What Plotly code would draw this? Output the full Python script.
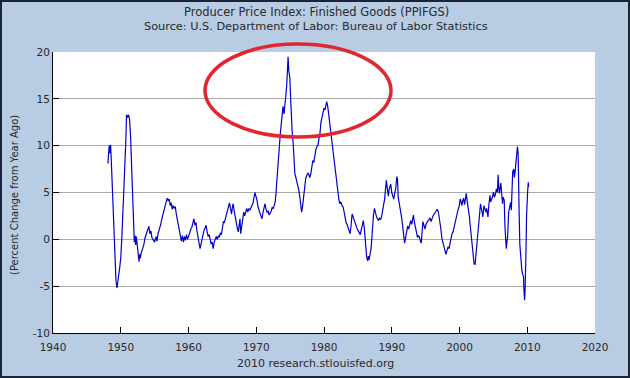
import plotly.graph_objects as go

# Decimal year of each observation and PPI finished goods, % change from year ago
years = [
    1948.1, 1948.2, 1948.3, 1948.4, 1948.5, 1948.6, 1948.75, 1948.9, 1949.0, 1949.1,
    1949.2, 1949.3, 1949.45, 1949.55, 1949.7, 1949.85, 1950.0, 1950.15, 1950.3, 1950.45,
    1950.6, 1950.75, 1950.85, 1951.0, 1951.15, 1951.3, 1951.45, 1951.55, 1951.7, 1951.8,
    1951.9, 1952.0, 1952.1, 1952.2, 1952.3, 1952.45, 1952.6, 1952.7, 1952.8, 1952.9,
    1953.0, 1953.2, 1953.4, 1953.6, 1953.8, 1954.0, 1954.15, 1954.3, 1954.45, 1954.6,
    1954.8, 1955.0, 1955.2, 1955.35, 1955.5, 1955.7, 1955.9, 1956.1, 1956.3, 1956.5,
    1956.7, 1956.85, 1957.0, 1957.15, 1957.3, 1957.45, 1957.6, 1957.75, 1957.9, 1958.05,
    1958.2, 1958.35, 1958.5, 1958.65, 1958.8, 1958.95, 1959.1, 1959.25, 1959.4, 1959.55,
    1959.7, 1959.85, 1960.0, 1960.15, 1960.3, 1960.5, 1960.65, 1960.8, 1960.95, 1961.1,
    1961.25, 1961.4, 1961.55, 1961.7, 1961.85, 1962.0, 1962.15, 1962.3, 1962.45, 1962.6,
    1962.75, 1962.9, 1963.05, 1963.2, 1963.35, 1963.5, 1963.65, 1963.8, 1963.95, 1964.1,
    1964.25, 1964.4, 1964.55, 1964.7, 1964.85, 1965.0, 1965.15, 1965.3, 1965.45, 1965.6,
    1965.75, 1965.9, 1966.05, 1966.2, 1966.35, 1966.5, 1966.6, 1966.75, 1966.9, 1967.05,
    1967.2, 1967.35, 1967.5, 1967.6, 1967.7, 1967.85, 1968.0, 1968.15, 1968.3, 1968.45,
    1968.6, 1968.75, 1968.9, 1969.05, 1969.2, 1969.35, 1969.5, 1969.65, 1969.8, 1969.95,
    1970.1, 1970.25, 1970.4, 1970.55, 1970.7, 1970.85, 1971.0, 1971.15, 1971.3, 1971.45,
    1971.6, 1971.75, 1971.9, 1972.05, 1972.2, 1972.35, 1972.5, 1972.65, 1972.8, 1972.9,
    1973.0, 1973.1, 1973.25, 1973.4, 1973.55, 1973.65, 1973.8, 1973.95, 1974.1, 1974.2,
    1974.35, 1974.5, 1974.6, 1974.7, 1974.8, 1974.95, 1975.05, 1975.15, 1975.3, 1975.45,
    1975.55, 1975.7, 1975.85, 1976.0, 1976.15, 1976.3, 1976.45, 1976.6, 1976.7, 1976.85,
    1977.0, 1977.15, 1977.3, 1977.45, 1977.6, 1977.75, 1977.9, 1978.05, 1978.2, 1978.35,
    1978.5, 1978.65, 1978.8, 1978.95, 1979.1, 1979.25, 1979.4, 1979.55, 1979.7, 1979.85,
    1980.0, 1980.15, 1980.3, 1980.4, 1980.55, 1980.7, 1980.85, 1981.0, 1981.15, 1981.3,
    1981.45, 1981.6, 1981.75, 1981.9, 1982.05, 1982.2, 1982.35, 1982.5, 1982.65, 1982.8,
    1982.95, 1983.1, 1983.25, 1983.4, 1983.55, 1983.7, 1983.85, 1984.0, 1984.15, 1984.3,
    1984.45, 1984.6, 1984.75, 1984.9, 1985.05, 1985.2, 1985.35, 1985.5, 1985.65, 1985.8,
    1985.95, 1986.05, 1986.2, 1986.3, 1986.45, 1986.55, 1986.65, 1986.8, 1986.95, 1987.05,
    1987.15, 1987.3, 1987.45, 1987.6, 1987.75, 1987.9, 1988.05, 1988.2, 1988.35, 1988.5,
    1988.65, 1988.8, 1988.95, 1989.1, 1989.2, 1989.35, 1989.5, 1989.6, 1989.75, 1989.85,
    1990.0, 1990.15, 1990.3, 1990.45, 1990.6, 1990.75, 1990.85, 1990.95, 1991.1, 1991.2,
    1991.35, 1991.5, 1991.6, 1991.75, 1991.9, 1992.05, 1992.2, 1992.35, 1992.5, 1992.65,
    1992.8, 1992.95, 1993.1, 1993.2, 1993.35, 1993.5, 1993.65, 1993.8, 1993.95, 1994.1,
    1994.25, 1994.35, 1994.5, 1994.6, 1994.75, 1994.9, 1995.05, 1995.2, 1995.35, 1995.5,
    1995.65, 1995.8, 1995.95, 1996.1, 1996.25, 1996.4, 1996.55, 1996.7, 1996.85, 1996.95,
    1997.1, 1997.25, 1997.4, 1997.55, 1997.7, 1997.85, 1998.0, 1998.15, 1998.3, 1998.45,
    1998.6, 1998.75, 1998.9, 1999.05, 1999.2, 1999.35, 1999.5, 1999.65, 1999.8, 1999.95,
    2000.1, 2000.2, 2000.35, 2000.5, 2000.6, 2000.75, 2000.9, 2001.0, 2001.15, 2001.3,
    2001.45, 2001.55, 2001.7, 2001.8, 2001.95, 2002.05, 2002.15, 2002.3, 2002.4, 2002.5,
    2002.65, 2002.75, 2002.9, 2003.0, 2003.1, 2003.2, 2003.35, 2003.45, 2003.6, 2003.75,
    2003.9, 2004.0, 2004.1, 2004.2, 2004.35, 2004.5, 2004.6, 2004.75, 2004.9, 2005.0,
    2005.15, 2005.3, 2005.45, 2005.6, 2005.7, 2005.8, 2005.9, 2006.0, 2006.1, 2006.2,
    2006.35, 2006.45, 2006.6, 2006.7, 2006.78, 2006.9, 2007.0, 2007.1, 2007.2, 2007.25,
    2007.4, 2007.55, 2007.65, 2007.75, 2007.85, 2008.0, 2008.1, 2008.2, 2008.35, 2008.45,
    2008.55, 2008.65, 2008.72, 2008.8, 2008.9, 2009.0, 2009.1, 2009.2, 2009.35, 2009.45,
    2009.5, 2009.6, 2009.68, 2009.75, 2009.82, 2009.9, 2009.95, 2010.05, 2010.15, 2010.2,
]

ppi_change = [
    8.1, 9.0, 10.0, 9.2, 10.1, 8.5, 6.0, 3.0, 0.5, -1.5,
    -3.0, -4.5, -5.2, -4.8, -3.8, -3.0, -2.0, 0.0, 2.5, 4.5,
    7.0, 10.5, 13.3, 13.0, 13.3, 12.8, 11.0, 8.5, 5.5, 2.5,
    0.5, -0.3, 0.4, -0.6, 0.3, -0.5, -1.5, -2.4, -1.6, -2.0,
    -1.5, -1.0, -0.6, 0.2, 0.6, 0.9, 1.4, 0.6, 0.9, 0.2,
    0.0, -0.3, 0.3, -0.2, 0.6, 1.0, 1.6, 2.3, 2.9, 3.6,
    3.9, 4.4, 4.1, 4.3, 3.6, 3.9, 3.2, 3.6, 3.3, 3.5,
    2.7, 2.1, 1.5, 0.8, 0.2, -0.2, 0.4, -0.3, 0.3, -0.1,
    0.5, 0.0, 0.3, 0.8, 1.0, 1.3, 1.8, 2.2, 1.5, 1.8,
    0.9, 0.2, -0.3, -1.0, -0.5, 0.0, 0.6, 1.0, 1.2, 1.5,
    0.8, 0.3, 0.5, -0.1, -0.5, -0.3, -1.0, -0.3, 0.1, 0.3,
    0.0, 0.4, 0.2, 0.7, 0.5, 1.2, 1.9, 1.8, 2.2, 2.5,
    3.0, 3.5, 3.9, 3.3, 2.7, 3.5, 3.8, 3.0, 2.3, 1.8,
    1.2, 0.8, 1.8, 2.2, 0.6, 1.5, 2.6, 2.9, 2.5, 3.0,
    3.3, 2.9, 3.3, 3.1, 3.5, 3.6, 3.8, 4.4, 5.0, 4.6,
    4.2, 3.5, 3.0, 2.8, 2.5, 2.2, 2.9, 3.3, 3.8, 3.2,
    2.9, 3.0, 2.6, 2.8, 3.0, 3.4, 3.3, 3.6, 4.0, 4.8,
    5.9, 7.2, 8.5, 9.6, 11.3, 12.0, 13.4, 14.2, 13.4, 14.5,
    15.2, 16.5, 18.5, 19.5, 18.0, 17.3, 15.5, 13.3, 11.5, 10.3,
    8.5, 7.0, 6.6, 6.2, 5.8, 5.2, 4.4, 3.3, 2.9, 3.6,
    4.6, 5.6, 6.5, 6.8, 7.1, 6.9, 6.6, 7.0, 7.6, 8.4,
    8.2, 9.0, 9.6, 9.9, 10.0, 10.7, 11.3, 12.5, 13.1, 13.5,
    14.0, 13.8, 14.4, 14.7, 14.2, 13.3, 12.4, 11.2, 10.4, 9.6,
    8.6, 7.8, 7.3, 6.3, 5.2, 4.2, 3.8, 4.0, 3.6, 3.5,
    3.0, 2.3, 1.8, 1.6, 1.2, 1.0, 0.6, 1.5, 2.7, 2.4,
    2.0, 1.8, 1.4, 1.1, 0.9, 0.7, 0.5, 1.0, 1.5, 2.0,
    1.2, 0.2, -1.2, -1.9, -2.3, -1.8, -2.2, -1.6, -1.0, 0.0,
    1.8, 2.6, 3.3, 2.8, 2.4, 2.2, 2.0, 2.3, 2.1, 2.4,
    2.9, 3.7, 4.3, 5.2, 6.3, 5.4, 4.6, 5.3, 5.6, 5.9,
    5.0, 4.6, 4.3, 5.0, 5.5, 6.7, 6.4, 4.5, 4.0, 3.5,
    2.8, 2.1, 1.3, 0.4, -0.4, 0.2, 1.0, 1.4, 1.1, 1.8,
    2.0, 1.6, 2.3, 2.6, 1.8, 1.1, 0.4, 0.2, 0.4, 0.2,
    -0.2, -0.4, 1.0, 1.9, 1.5, 1.1, 1.6, 1.9, 2.0, 2.1,
    2.3, 1.9, 2.3, 2.5, 2.7, 2.8, 3.0, 3.2, 3.0, 2.6,
    2.0, 1.1, 0.1, -0.3, -0.6, -1.2, -1.6, -1.2, -0.8, -1.0,
    -0.5, 0.2, 0.6, 0.8, 1.3, 1.6, 2.3, 2.9, 3.2, 3.5,
    4.3, 4.1, 3.6, 4.2, 4.4, 3.7, 4.4, 4.9, 4.0, 3.4,
    2.5, 1.7, 0.5, -0.6, -1.6, -2.3, -2.6, -2.7, -1.8, -1.0,
    0.2, 0.8, 1.8, 3.1, 3.8, 3.4, 2.6, 2.4, 3.6, 3.3,
    2.9, 3.3, 3.0, 2.4, 3.8, 4.7, 4.0, 4.3, 4.6, 5.05,
    4.5, 4.8, 5.4, 5.0, 6.9, 5.5, 4.9, 5.5, 6.0, 5.1,
    3.8, 4.5, 4.2, 1.5, -0.1, -1.0, -0.3, 0.2, 2.0, 2.9,
    3.4, 3.95, 3.1, 5.5, 7.2, 7.5, 6.6, 7.2, 8.5, 9.35,
    9.9, 9.2, 7.5, 3.0, -0.5, -1.5, -2.3, -3.3, -3.8, -4.0,
    -5.2, -6.5, -5.5, -4.2, -1.0, 2.5, 4.7, 5.0, 6.1, 5.6,
]

y_ticks = [-10, -5, 0, 5, 10, 15, 20]
x_ticks = [1940, 1950, 1960, 1970, 1980, 1990, 2000, 2010, 2020]

title_lines = [
    "Producer Price Index: Finished Goods (PPIFGS)",
    "Source: U.S. Department of Labor: Bureau of Labor Statistics",
]
footer = "2010 research.stlouisfed.org"
y_title = "(Percent Change from Year Ago)"

FONT = "DejaVu Sans"
TXT = "#2a2a2a"
BG = "#B8CCE4"

fig = go.Figure()
fig.add_trace(go.Scatter(
    x=years, y=ppi_change, mode="lines",
    line=dict(color="#0000CC", width=1.2),
    hoverinfo="skip", showlegend=False,
))

W, H = 630, 378
ml, mr, mt, mb = 53, 35, 52, 45
pw, ph = W - ml - mr, H - mt - mb

fig.update_layout(
    width=W, height=H,
    margin=dict(l=ml, r=mr, t=mt, b=mb, pad=0, autoexpand=False),
    paper_bgcolor=BG, plot_bgcolor="white",
    font=dict(family=FONT, size=11, color=TXT),
    showlegend=False,
)
fig.update_xaxes(
    range=[x_ticks[0], x_ticks[-1]], tickvals=x_ticks, ticktext=[str(t) for t in x_ticks],
    showgrid=False, zeroline=False, automargin=False,
    showline=True, linecolor="black", linewidth=1,
    ticks="inside", ticklen=6, tickcolor="black", ticklabelstandoff=4,
    tickfont=dict(family=FONT, size=10.5, color=TXT),
)
fig.update_yaxes(
    range=[y_ticks[0], y_ticks[-1]], tickvals=y_ticks, ticktext=[str(t) for t in y_ticks],
    showgrid=True, gridcolor="#A8A8A8", gridwidth=1, zeroline=False, automargin=False,
    showline=True, linecolor="black", linewidth=1,
    ticks="inside", ticklen=6, tickcolor="black",
    tickfont=dict(family=FONT, size=10.5, color=TXT),
)

def px_x(p):
    return (p - ml) / pw

def px_y(p):
    return (H - mb - p) / ph

texts = [
    (title_lines[0], 316, 12, 0, 11.5),
    (title_lines[1], 316, 26, 0, 11.3),
    (footer, 315, 363, 0, 11),
    (y_title, 14, 195, -90, 10),
]
for t, x, y, ang, fs in texts:
    fig.add_annotation(text=t, x=px_x(x), xref="paper", y=px_y(y), yref="paper",
                       showarrow=False, xanchor="center", yanchor="middle", textangle=ang,
                       font=dict(family=FONT, size=fs, color=TXT))

# red highlight ellipse (decoration)
fig.add_shape(type="circle", xref="paper", yref="paper",
              x0=px_x(205), x1=px_x(391), y0=px_y(137), y1=px_y(44),
              line=dict(color="#E0262E", width=3.5), fillcolor="rgba(0,0,0,0)")
# outer frame
fig.add_shape(type="rect", xref="paper", yref="paper",
              x0=px_x(1), x1=px_x(629), y0=px_y(377), y1=px_y(1),
              line=dict(color="#1B2338", width=2), fillcolor="rgba(0,0,0,0)")

fig.write_html(
    "out.html",
    config={"displayModeBar": False},
    post_script="document.body.style.margin='0';document.body.style.padding='0';document.body.style.overflow='hidden';",
)
